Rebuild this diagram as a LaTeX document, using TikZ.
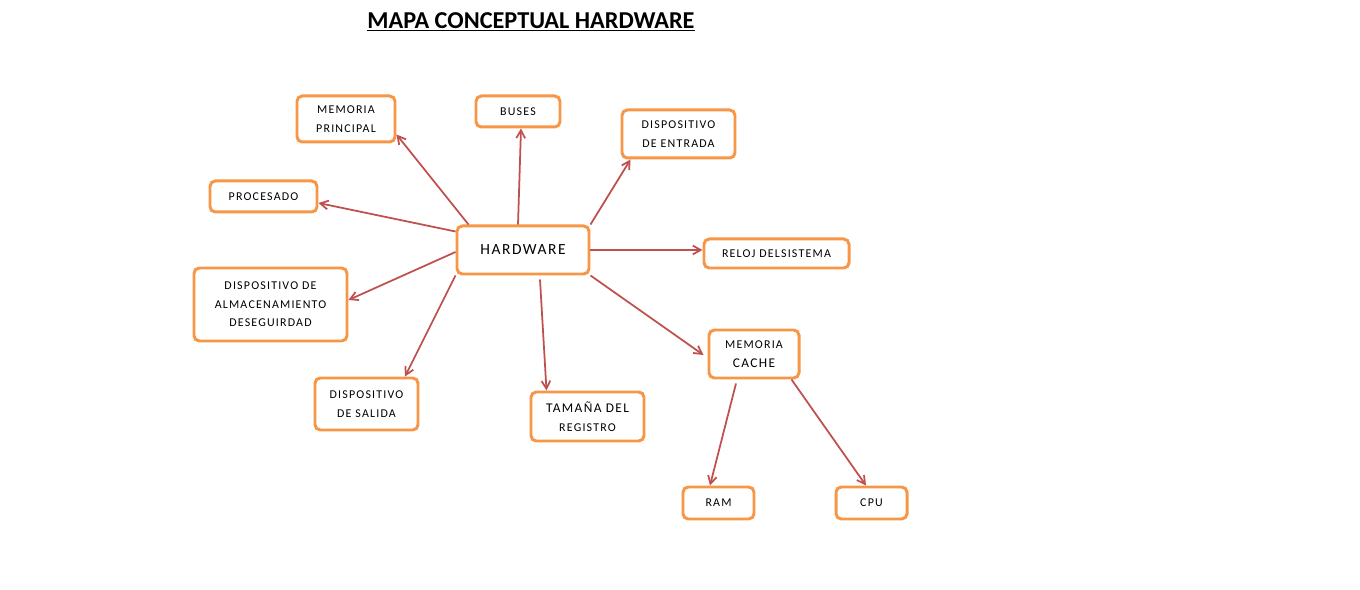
\documentclass[tikz,border=0pt]{standalone}
\usepackage{fontspec}
\setmainfont{Carlito}
\newfontfamily\etiq[LetterSpace=10]{Carlito}
\usetikzlibrary{arrows.meta,calc}
\definecolor{naranja}{HTML}{F79646}
\definecolor{rojo}{HTML}{C0504D}
\newcommand{\caja}[6]{\node[caja,minimum width=#4*0.02cm,minimum height=#5*0.02cm] (#1) at (#2,#3) {#6};}

\begin{document}
\begin{tikzpicture}[x=0.02cm,y=-0.02cm,
  caja/.style={draw=naranja,line width=1.7pt,rounded corners=3pt,align=center,inner sep=0pt,
    font=\etiq\fontsize{6.8}{10.6}\selectfont},
  flecha/.style={draw=rojo,line width=1pt,-{Straight Barb[length=4.5pt,width=5pt]}}]
\useasboundingbox (0,0) rectangle (1360,590);

\node[font=\bfseries\fontsize{13.8}{15}\selectfont] (titulo) at (531,22) {\underline{MAPA CONCEPTUAL HARDWARE}};

\caja{mp}{346}{119}{98}{46}{MEMORIA\\PRINCIPAL}
\caja{buses}{518}{111.5}{84}{31}{BUSES}
\caja{entrada}{678.5}{134}{113}{48}{DISPOSITIVO\\DE ENTRADA}
\caja{procesado}{263.5}{196.5}{107}{31}{PROCESADO}
\caja{hw}{523}{250}{132}{48}{\fontsize{8.8}{10}\selectfont HARDWARE}
\caja{reloj}{776.5}{253.5}{145}{29}{RELOJ DELSISTEMA}
\caja{almac}{270.5}{304.5}{153}{73}{DISPOSITIVO DE\\ALMACENAMIENTO\\DESEGUIRDAD}
\caja{salida}{366.5}{404}{103}{52}{DISPOSITIVO\\DE SALIDA}
\caja{tamana}{587.5}{416.5}{113}{49}{{\fontsize{7.6}{10}\selectfont TAMAÑA DEL}\\REGISTRO}
\caja{cache}{754}{354}{90}{48}{MEMORIA\\{\fontsize{7.6}{10}\selectfont CACHE}}
\caja{ram}{718.5}{503}{71}{32}{RAM}
\caja{cpu}{871.5}{503}{71}{32}{CPU}

% desde HARDWARE
\draw[flecha] ($(hw.north west)+(13,0)$) -- ($(mp.south east)+(0,-9)$);
\draw[flecha] ($(hw.north)+(-5,0)$) -- ($(buses.south)+(3,0)$);
\draw[flecha] (hw.north east) -- ($(entrada.south west)+(10,0)$);
\draw[flecha] ($(hw.north west)+(0,7)$) -- ($(procesado.east)+(0,6.5)$);
\draw[flecha] (hw.east) -- (reloj.west |- hw.east);
\draw[flecha] ($(hw.west)+(0,2)$) -- ($(almac.east)+(0,-4.5)$);
\draw[flecha] (hw.south west) -- ($(salida.north)+(38.5,0)$);
\draw[flecha] ($(hw.south)+(17,4)$) -- ($(tamana.north)+(-41,0)$);
\draw[flecha] (hw.south east) -- ($(cache.west)+(-4,1)$);
% desde MEMORIA CACHE
\draw[flecha] ($(cache.south)+(-18,4)$) -- ($(ram.north)+(-8.5,0)$);
\draw[flecha] ($(cache.south east)+(-9,0)$) -- ($(cpu.north)+(-5.5,0)$);
\end{tikzpicture}
\end{document}
